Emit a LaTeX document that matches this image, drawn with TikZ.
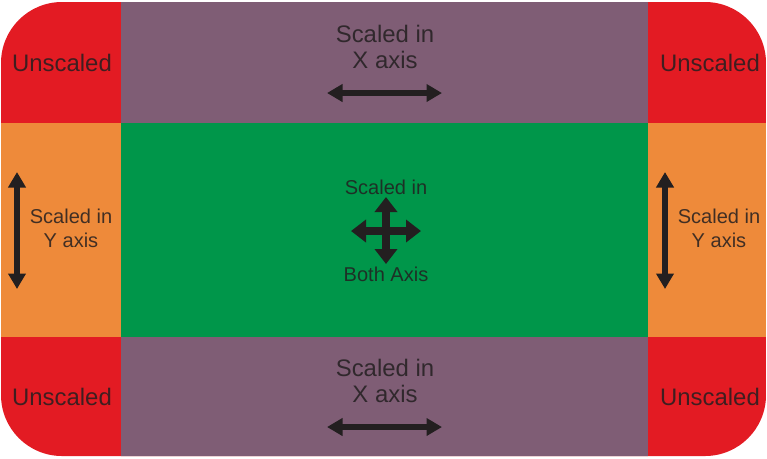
\documentclass[tikz,border=0pt]{standalone}
\usepackage{fontspec}
\setmainfont{Liberation Sans}
\usetikzlibrary{arrows.meta}
\definecolor{cornerred}{HTML}{E31B23}
\definecolor{edgepurple}{HTML}{7F5D75}
\definecolor{sideorange}{HTML}{EE8A3A}
\definecolor{midgreen}{HTML}{00964A}
\definecolor{inkdark}{HTML}{231F20}
\tikzset{
  biglabel/.style={font=\fontsize{13.6}{14.8}\selectfont, text=inkdark, text opacity=0.85, align=center, inner sep=0pt},
  smalllabel/.style={font=\fontsize{11.4}{13.7}\selectfont, text=inkdark, text opacity=0.85, align=center, inner sep=0pt},
  scalearrow/.style={draw=inkdark, line width=0.11cm, {Triangle[width=0.34cm,length=0.31cm]}-{Triangle[width=0.34cm,length=0.31cm]}},
  crossarrow/.style={draw=inkdark, line width=0.16cm, {Triangle[width=0.44cm,length=0.3cm]}-{Triangle[width=0.44cm,length=0.3cm]}}
}
\begin{document}
\begin{tikzpicture}[x=0.02cm, y=-0.02cm]
  \useasboundingbox (0, 0) rectangle (767, 458);
  % patches of the nine-slice grid
  \begin{scope}
    \clip[rounded corners=1.22cm] (1, 2) rectangle (766, 456);
    \fill[cornerred] (0, 0) rectangle (767, 458);
    \fill[edgepurple] (121, 0) rectangle (648, 458);
    \fill[sideorange] (0, 123) rectangle (767, 337);
    \fill[midgreen] (121, 123) rectangle (648, 337);
  \end{scope}
  % corners
  \node[biglabel] (tl) at (62, 63) {Unscaled};
  \node[biglabel] (tr) at (710, 63) {Unscaled};
  \node[biglabel] (bl) at (62, 397) {Unscaled};
  \node[biglabel] (br) at (710, 397) {Unscaled};
  % top and bottom edges
  \node[biglabel] (top) at (385, 47) {Scaled in\\X axis};
  \node[biglabel] (bottom) at (385, 381) {Scaled in\\X axis};
  \coordinate (topA) at (327, 93);
  \coordinate (topB) at (442, 93);
  \coordinate (botA) at (327, 427);
  \coordinate (botB) at (442, 427);
  \draw[scalearrow] (topA) -- (topB);
  \draw[scalearrow] (botA) -- (botB);
  % left and right edges
  \node[smalllabel] (left) at (71, 228) {Scaled in\\Y axis};
  \node[smalllabel] (right) at (719, 228) {Scaled in\\Y axis};
  \coordinate (leftA) at (17, 172);
  \coordinate (leftB) at (17, 289);
  \coordinate (rightA) at (665, 172);
  \coordinate (rightB) at (665, 289);
  \draw[scalearrow] (leftA) -- (leftB);
  \draw[scalearrow] (rightA) -- (rightB);
  % centre
  \node[smalllabel] (midtop) at (386, 187) {Scaled in};
  \node[smalllabel] (midbot) at (386, 274) {Both Axis};
  \coordinate (midW) at (351, 231);
  \coordinate (midE) at (421, 231);
  \coordinate (midN) at (386, 197);
  \coordinate (midS) at (386, 264);
  \draw[crossarrow] (midW) -- (midE);
  \draw[crossarrow] (midN) -- (midS);
\end{tikzpicture}
\end{document}
